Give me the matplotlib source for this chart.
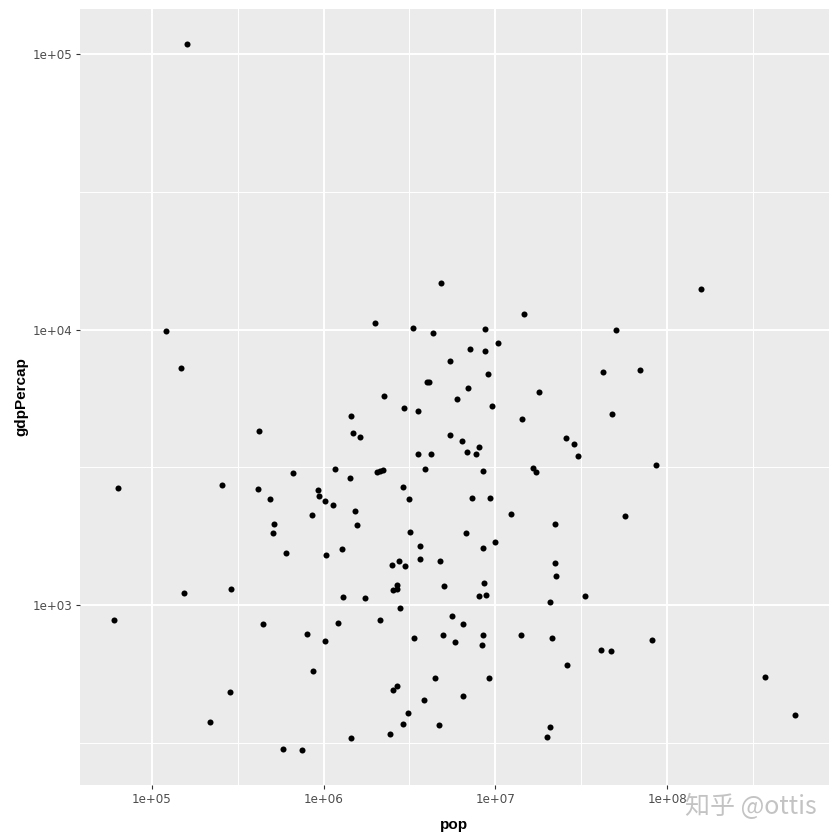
import numpy as np
import matplotlib
matplotlib.use('Agg')
import matplotlib.pyplot as plt
from matplotlib.ticker import FixedLocator, NullFormatter

# gapminder, year 1952 (pop, gdpPercap), one entry per country
pop = [
    8425333, 1282697, 9279525, 4232095, 17876956, 8691212, 6927772, 120447,
    46886859, 8730405, 1738315, 2883315, 2791000, 442308, 56602560, 7274900,
    4469979, 2445618, 4693836, 5009067, 14785584, 1291695, 2682462, 6377619,
    556263527, 12350771, 153936, 14100005, 854885, 926317, 2977019, 3882229,
    6007797, 9125183, 4334000, 63149, 2491346, 3548753, 22223309, 2042865,
    216964, 1438760, 20860941, 4090500, 42459667, 420702, 284320, 69145952,
    5581001, 7733250, 3146381, 2664249, 580653, 3201488, 1517453, 2125900,
    9504000, 147962, 372000000, 82052000, 17272000, 5441766, 2952156, 1620914,
    47666000, 1426095, 86459025, 607914, 6464046, 8865488, 20947571, 160000,
    1439529, 748747, 863308, 1019729, 4762912, 2917802, 6748378, 3838168,
    1022556, 516556, 30144317, 800663, 413834, 9939217, 6446316, 20092996,
    485831, 9182536, 10381988, 1994794, 1165790, 3379468, 33119096, 3327728,
    507833, 41346560, 940080, 1555876, 8025700, 22438691, 25730551, 8526050,
    2227000, 257700, 16630000, 2534927, 60011, 4005677, 2755589, 6860147,
    2143249, 1127000, 3558137, 1489518, 2526994, 14264935, 28549870, 7982342,
    8504667, 290243, 7124673, 4815000, 3661549, 8550362, 8322925, 21289402,
    1219113, 662850, 3647735, 22235677, 5824797, 50430000, 157553000, 2252965,
    5439568, 26246839, 1030585, 4963829, 2672000, 3080907,
]
gdp_percap = [
    779.4, 1601.1, 2449.0, 3520.6, 5911.3, 10039.6, 6137.1, 9867.1,
    684.2, 8343.1, 1062.8, 2677.3, 973.5, 851.2, 2108.9, 2444.3,
    543.3, 339.3, 368.5, 1172.7, 11367.2, 1071.3, 1178.7, 3940.0,
    400.4, 2144.1, 1103.0, 780.5, 2125.6, 2627.0, 1388.6, 3119.2,
    5586.5, 6876.1, 9692.4, 2669.5, 1397.7, 3522.1, 1418.8, 3048.3,
    375.6, 328.9, 362.1, 6424.5, 7029.8, 4293.5, 485.2, 7144.1,
    911.3, 3530.7, 2428.2, 510.2, 299.9, 1840.4, 2194.9, 3054.4,
    5263.7, 7267.7, 546.6, 749.7, 3035.3, 4129.8, 5210.3, 4086.5,
    4931.4, 2898.5, 3217.0, 1546.9, 853.5, 1088.3, 1030.6, 108382.4,
    4834.8, 298.8, 575.6, 2387.5, 1443.0, 369.2, 1831.1, 452.3,
    743.1, 1968.0, 3478.1, 786.6, 2647.6, 1688.2, 468.5, 331.0,
    2423.8, 545.9, 8941.6, 10556.6, 3112.4, 761.9, 1077.3, 10095.4,
    1828.2, 684.6, 2480.4, 1952.3, 3758.5, 1272.9, 4029.3, 3068.3,
    3082.0, 2718.9, 3144.6, 493.3, 879.6, 6459.6, 1450.4, 3581.5,
    879.8, 2315.1, 5074.7, 4215.0, 1135.7, 4725.3, 3834.0, 1083.5,
    1616.0, 1148.4, 8527.8, 14734.2, 1643.5, 1206.9, 716.7, 757.8,
    859.8, 3023.3, 1468.5, 1969.1, 734.8, 9979.5, 13990.5, 5716.8,
    7689.8, 605.1, 1515.6, 781.7, 1147.4, 406.9,
]

x_breaks = [1e5, 1e6, 1e7, 1e8]
x_labels = ['1e+05', '1e+06', '1e+07', '1e+08']
y_breaks = [1e3, 1e4, 1e5]
y_labels = ['1e+03', '1e+04', '1e+05']


def log_limits(values, mult=0.05):
    lo, hi = np.log10(min(values)), np.log10(max(values))
    pad = (hi - lo) * mult
    return 10 ** (lo - pad), 10 ** (hi + pad)


def minor_breaks(limits):
    lo, hi = np.log10(limits)
    mids = np.arange(np.floor(lo) - 0.5, np.ceil(hi) + 1, 1.0)
    return [10 ** m for m in mids if lo <= m <= hi]


fig = plt.figure(figsize=(8.4, 8.4), dpi=100)
ax = fig.add_axes([0.0949, 0.0655, 0.8921, 0.9238])
ax.set_facecolor('#EBEBEB')

ax.scatter(pop, gdp_percap, s=19, c='black', linewidths=0, zorder=3)

ax.set_xscale('log')
ax.set_yscale('log')
xlim = log_limits(pop)
ylim = log_limits(gdp_percap)
ax.set_xlim(xlim)
ax.set_ylim(ylim)

ax.xaxis.set_major_locator(FixedLocator(x_breaks))
ax.yaxis.set_major_locator(FixedLocator(y_breaks))
ax.set_xticklabels(x_labels)
ax.set_yticklabels(y_labels)
ax.xaxis.set_minor_locator(FixedLocator(minor_breaks(xlim)))
ax.yaxis.set_minor_locator(FixedLocator(minor_breaks(ylim)))
ax.xaxis.set_minor_formatter(NullFormatter())
ax.yaxis.set_minor_formatter(NullFormatter())

ax.grid(which='major', color='white', linewidth=1.4, zorder=1)
ax.grid(which='minor', color='white', linewidth=0.7, zorder=1)
ax.set_axisbelow(True)
for side in ax.spines.values():
    side.set_visible(False)

ax.tick_params(which='major', length=3.0, width=0.8, color='#333333',
               labelcolor='#4D4D4D', labelsize=8.6, pad=2.5)
ax.tick_params(which='minor', length=0)
for lab in ax.get_xticklabels() + ax.get_yticklabels():
    lab.set_family('DejaVu Sans')

ax.set_xlabel('pop', family='Liberation Sans', fontsize=11,
              fontweight='bold', labelpad=9)
ax.set_ylabel('gdpPercap', family='Liberation Sans', fontsize=11,
              fontweight='bold', labelpad=3)

# watermark
fig.text(0.8155, 0.039, '知乎 @ottis', family=['Noto Sans CJK SC', 'DejaVu Sans'],
         fontsize=18, color='#BDBDBD', alpha=0.9, ha='left', va='center', zorder=10)

fig.savefig('out.png', dpi=100)
